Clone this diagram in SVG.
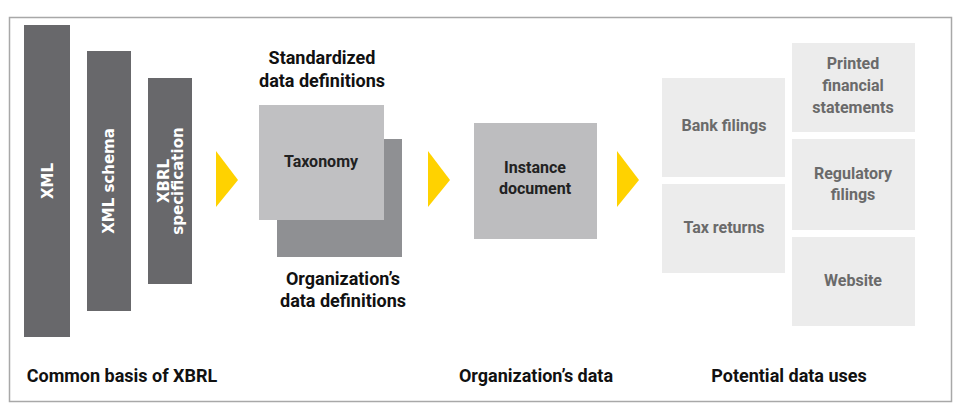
<svg xmlns="http://www.w3.org/2000/svg" width="962" height="410" viewBox="0 0 962 410">
<style>
text{font-family:Roboto,"Liberation Sans",sans-serif;font-weight:bold;text-anchor:middle}
.h{font-size:18px;fill:#111}
.w{font-family:"DejaVu Sans",sans-serif;font-size:15px;fill:#fff}
.d{font-size:16px;fill:#222}
.l{font-size:16px;fill:#6a6a6a}
.bar{fill:#68686b}
.use{fill:#ececec}
.arr{fill:#ffd200}
</style>
<rect x="0" y="0" width="962" height="410" fill="#fff"/>
<rect x="9.5" y="17.5" width="942" height="384" fill="#fff" stroke="#a8a8a8" stroke-width="1.5"/>
<g id="xml"><rect class="bar" x="24" y="25" width="46" height="312"/><text class="w" transform="translate(53,181) rotate(-90)">XML</text></g>
<g id="xml-schema"><rect class="bar" x="87" y="51" width="44" height="260"/><text class="w" transform="translate(114,181) rotate(-90)">XML schema</text></g>
<g id="xbrl-spec"><rect class="bar" x="148" y="78" width="44" height="206"/><text class="w" transform="translate(169,181) rotate(-90)">XBRL</text><text class="w" transform="translate(183,181) rotate(-90)">specification</text></g>
<g id="connectors">
<polygon class="arr" points="216,151 238,180 216,207"/>
<polygon class="arr" points="428,151 450,180 428,207"/>
<polygon class="arr" points="617,151 639,180 617,207"/>
</g>
<g id="org-defs"><rect x="277" y="139" width="125" height="118" fill="#8f9093"/><text class="h" x="343" y="285">Organization’s</text><text class="h" x="343" y="307">data definitions</text></g>
<g id="taxonomy"><rect x="259" y="105" width="125" height="115" fill="#c0c0c2"/><text class="d" x="321" y="167">Taxonomy</text><text class="h" x="322" y="64">Standardized</text><text class="h" x="322" y="87">data definitions</text></g>
<g id="instance"><rect x="474" y="123" width="123" height="116" fill="#bdbdbf"/><text class="d" x="535" y="173">Instance</text><text class="d" x="535" y="194">document</text></g>
<g id="bank"><rect class="use" x="662" y="78" width="123" height="99"/><text class="l" x="724" y="131">Bank filings</text></g>
<g id="tax"><rect class="use" x="662" y="184" width="123" height="89"/><text class="l" x="724" y="233">Tax returns</text></g>
<g id="printed"><rect class="use" x="792" y="43" width="123" height="89"/><text class="l" x="853" y="69">Printed</text><text class="l" x="853" y="91">financial</text><text class="l" x="853" y="113">statements</text></g>
<g id="regulatory"><rect class="use" x="792" y="139" width="123" height="91"/><text class="l" x="853" y="179">Regulatory</text><text class="l" x="853" y="200">filings</text></g>
<g id="website"><rect class="use" x="792" y="237" width="123" height="89"/><text class="l" x="853" y="286">Website</text></g>
<g id="labels">
<text class="h" x="122" y="382">Common basis of XBRL</text>
<text class="h" x="536" y="382">Organization’s data</text>
<text class="h" x="789" y="382">Potential data uses</text>
</g>
</svg>
